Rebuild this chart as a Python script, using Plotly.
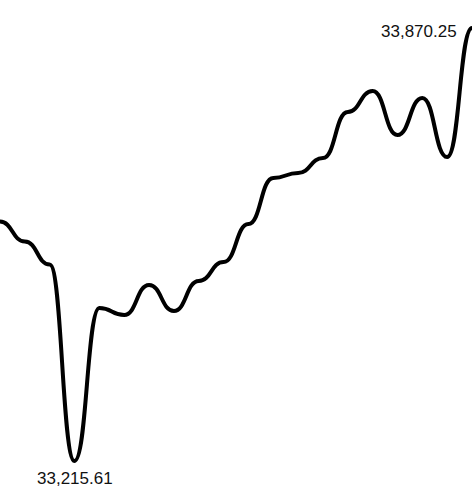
import plotly.graph_objects as go

# Price series (20 evenly spaced samples)
steps = list(range(20))
prices = [
    33577.6, 33547.4, 33512.6, 33215.61, 33446.9,
    33436.3, 33481.7, 33442.4, 33487.7, 33516.4,
    33573.9, 33643.5, 33651.0, 33673.7, 33743.3,
    33775.0, 33708.5, 33764.4, 33675.2, 33870.25,
]

hi = max(prices)
lo = min(prices)
i_hi = prices.index(hi)
i_lo = prices.index(lo)

# smooth "bump" curve: cubic segments with flat handles at every sample
path = f"M {steps[0]},{prices[0]}"
for k in range(1, len(steps)):
    xm = (steps[k - 1] + steps[k]) / 2
    path += f" C {xm},{prices[k - 1]} {xm},{prices[k]} {steps[k]},{prices[k]}"

fig = go.Figure()
# invisible trace keeps the axes / hover on the real samples
fig.add_trace(go.Scatter(
    x=steps,
    y=prices,
    mode='lines',
    line=dict(color='rgba(0,0,0,0)', width=4),
    hovertemplate='%{y:,.2f}<extra></extra>',
))
fig.add_shape(
    type='path', path=path, xref='x', yref='y',
    line=dict(color='black', width=4),
)

# high / low labels
fig.add_annotation(
    x=steps[i_hi], y=hi, text=f"{hi:,.2f}",
    showarrow=False, xanchor='right', yanchor='middle',
    xshift=-13, yshift=-3,
)
fig.add_annotation(
    x=steps[i_lo], y=lo, text=f"{lo:,.2f}",
    showarrow=False, xanchor='center', yanchor='middle',
    yshift=-18,
)

fig.update_layout(
    width=474,
    height=503,
    margin=dict(l=0, r=0, t=0, b=0),
    paper_bgcolor='white',
    plot_bgcolor='white',
    showlegend=False,
    font=dict(family='Liberation Sans, Arial, sans-serif', size=17, color='#111'),
    xaxis=dict(visible=False, range=[0, 19.08]),
    yaxis=dict(visible=False, range=[33152.1, 33912.6]),
)

fig.write_html(
    "out.html",
    config={'displayModeBar': False},
    post_script="document.body.style.margin='0';",
)
